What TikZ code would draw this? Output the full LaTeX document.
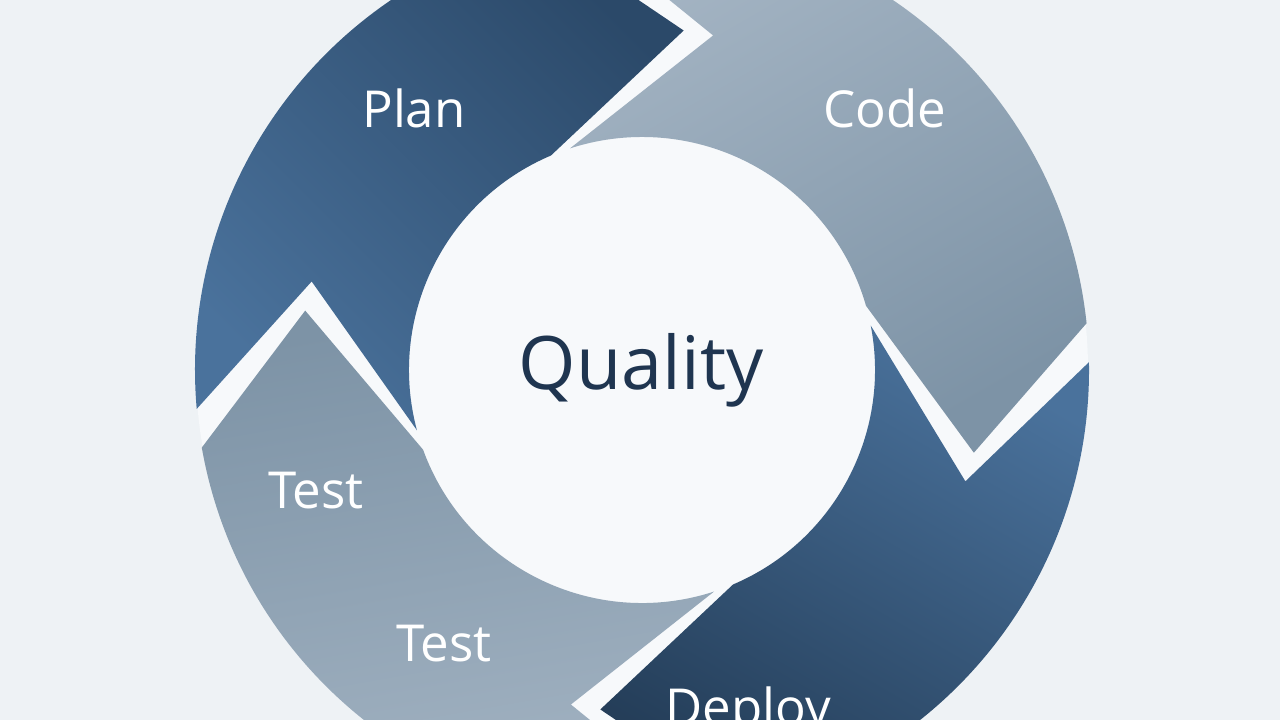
\documentclass[tikz,border=0pt]{standalone}
\usepackage{fontspec}
\setmainfont{Open Sans}
\usepackage{tikz}
\usetikzlibrary{math}
\usepackage{xcolor}

\definecolor{bgcol}{HTML}{EEF2F5}
\definecolor{hubcol}{HTML}{F7F9FB}
\definecolor{navytext}{HTML}{1F3550}
\definecolor{darkA}{HTML}{2B4969}
\definecolor{darkB}{HTML}{4A729C}
\definecolor{greyA}{HTML}{A5B5C4}
\definecolor{greyB}{HTML}{7D93A6}

\tikzset{
  steplabel/.style={text=white, anchor=base, font=\fontsize{14.5}{17}\selectfont},
  hublabel/.style={text=navytext, anchor=base, font=\fontsize{21}{25}\selectfont},
}

% one arrow piece of the ring: tail at angle #1, head at angle #2
\newcommand{\ringpiece}[3]{%
  \pgfmathsetmacro{\tailout}{#1+15}%
  \pgfmathsetmacro{\tailin}{#1+25}%
  \pgfmathsetmacro{\tailtip}{#1-5}%
  \pgfmathsetmacro{\headout}{#2+20}%
  \pgfmathsetmacro{\headin}{#2+30}%
  \path[#3] (\tailout:4.47) arc[start angle=\tailout, end angle=\headout, radius=4.47]
    -- (#2:3.42) -- (\headin:2.33)
    arc[start angle=\headin, end angle=\tailin, radius=2.33]
    -- (\tailtip:3.42) -- cycle;}

\begin{document}
\begin{tikzpicture}
  \useasboundingbox (0,0) rectangle (12.8,7.2);
  \clip (0,0) rectangle (12.8,7.2);
  \fill[bgcol] (0,0) rectangle (12.8,7.2);

  \begin{scope}[shift={(6.42,3.5)}]
    % white under the ring, shows in the gaps
    \fill[hubcol] (0,0) circle (4.46);
    \ringpiece{170}{83}{top color=darkA, bottom color=darkB, shading angle=-45}
    \ringpiece{83}{-14}{top color=greyA, bottom color=greyB, shading angle=30}
    \ringpiece{-14}{-97}{top color=darkB, bottom color=darkA!85!black, shading angle=-30}
    \ringpiece{263}{170}{top color=greyB, bottom color=greyA, shading angle=10}
  \end{scope}

  \node[hublabel] (quality) at (6.41,3.30) {Quality};
  \node[steplabel] (plan) at (4.14,5.92) {Plan};
  \node[steplabel] (code) at (8.85,5.92) {Code};
  \node[steplabel] (testup) at (3.16,2.11) {Test};
  \node[steplabel] (testdown) at (4.44,0.58) {Test};
  \node[steplabel] (deploy) at (7.48,-0.06) {Deploy};
\end{tikzpicture}
\end{document}
